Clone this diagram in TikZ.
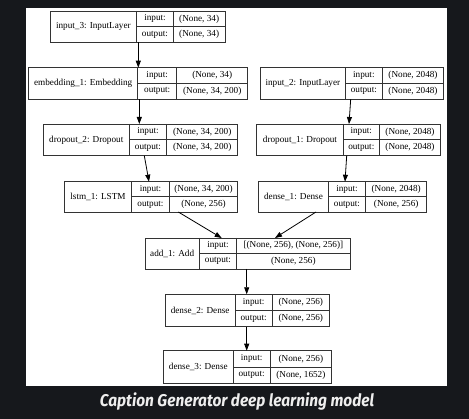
\documentclass[tikz,border=0pt]{standalone}
\usepackage{fontspec}
\setmainfont{Liberation Serif}
\newfontfamily\capfont{Fira Sans}
\usetikzlibrary{arrows.meta,fit,calc}
\definecolor{bgdark}{HTML}{16181C}
\definecolor{capcol}{HTML}{EEEEEE}
\definecolor{linecol}{HTML}{333333}
\tikzset{
  recbox/.style={draw=linecol, line width=0.9pt, inner sep=0pt, outer sep=0pt},
  divl/.style={draw=linecol, line width=0.9pt},
  cell/.style={inner sep=0pt, font=\fontsize{9.2}{10}\selectfont, text=black},
  arr/.style={-{Triangle[length=7pt,width=5pt]}, line width=0.8pt, draw=black},
}
% #1 name, #2 L,T  #3 R,B  #4 d1  #5 d2  #6 label  #7 input  #8 output
\newcommand\recbox[8]{%
  \node[recbox, fit={(#2) (#3)}] (#1) {};
  \coordinate (#1-a) at (#4,0);
  \coordinate (#1-b) at (#5,0);
  \draw[divl] (#1-a |- #1.north) -- (#1-a |- #1.south);
  \draw[divl] (#1-b |- #1.north) -- (#1-b |- #1.south);
  \draw[divl] (#1-a |- #1.center) -- (#1.east);
  \node[cell] (#1-name) at ($(#1.north west)!0.5!(#1-a |- #1.south)$) {#6};
  \node[cell] (#1-il) at ($(#1-a |- #1.north)!0.5!(#1-b |- #1.center)$) {input:};
  \node[cell] (#1-iv) at ($(#1-b |- #1.north)!0.5!(#1.east)$) {#7};
  \node[cell] (#1-ol) at ($(#1-a |- #1.center)!0.5!(#1-b |- #1.south)$) {output:};
  \node[cell] (#1-ov) at ($(#1-b |- #1.center)!0.5!(#1.south east)$) {#8};
}
\begin{document}
\begin{tikzpicture}[x=1pt, y=-1pt]
\useasboundingbox (0,0) rectangle (469,419);
\fill[bgdark] (0,0) rectangle (469,419);
\fill[white] (26,8) rectangle (446.7,385.7);

\recbox{in3}{50,11}{225,42.3}{136.7}{173.3}{input\_3: InputLayer}{(None, 34)}{(None, 34)}
\recbox{emb}{28.7,67.7}{247.7,99.2}{137.7}{176.7}{embedding\_1: Embedding}{(None, 34)}{(None, 34, 200)}
\recbox{in2}{260.7,67.7}{443.3,99.2}{345}{382.7}{input\_2: InputLayer}{(None, 2048)}{(None, 2048)}
\recbox{dr2}{43.3,124}{237.7,155.7}{129.3}{166.7}{dropout\_2: Dropout}{(None, 34, 200)}{(None, 34, 200)}
\recbox{dr1}{256.7,124}{440.7,155.7}{343.3}{379.3}{dropout\_1: Dropout}{(None, 2048)}{(None, 2048)}
\recbox{lstm}{64.3,181.7}{237.7,212}{131.7}{169.3}{lstm\_1: LSTM}{(None, 34, 200)}{(None, 256)}
\recbox{den1}{258.7,181.7}{426.7,212}{328.3}{365.7}{dense\_1: Dense}{(None, 2048)}{(None, 256)}
\recbox{add}{145,238}{350,269}{199.3}{236.7}{add\_1: Add}{[(None, 256), (None, 256)]}{(None, 256)}
\recbox{den2}{165.3,294.3}{329.3,326.7}{235}{272.3}{dense\_2: Dense}{(None, 256)}{(None, 256)}
\recbox{den3}{163.3,350.7}{331.7,383.3}{233.3}{270}{dense\_3: Dense}{(None, 256)}{(None, 1652)}

\draw[arr] ([xshift=88.3pt]in3.south west) -- ([xshift=109.6pt]emb.north west);
\draw[arr] ([xshift=110.6pt]emb.south west) -- ([xshift=96pt]dr2.north west);
\draw[arr] ([xshift=90pt]in2.south west) -- ([xshift=92.3pt]dr1.north west);
\draw[arr] ([xshift=101pt]dr2.south west) -- ([xshift=84.7pt]lstm.north west);
\draw[arr] ([xshift=90pt]dr1.south west) -- ([xshift=86.3pt]den1.north west);
\draw[arr] ([xshift=114pt]lstm.south west) -- ([xshift=76.7pt]add.north west);
\draw[arr] ([xshift=57.3pt]den1.south west) -- ([xshift=130pt]add.north west);
\draw[arr] ([xshift=101.7pt]add.south west) -- ([xshift=101.7pt]add.south west |- den2.north);
\draw[arr] ([xshift=83.4pt]den3.north west |- den2.south) -- ([xshift=83.4pt]den3.north west);

\node[font=\capfont\bfseries\itshape\fontsize{17}{20}\selectfont, text=capcol, anchor=base, xscale=0.91] (cap) at (237,406.7) {Caption Generator deep learning model};
\end{tikzpicture}
\end{document}
